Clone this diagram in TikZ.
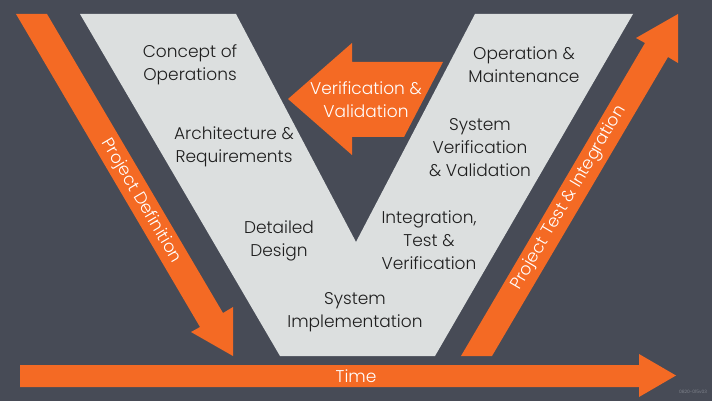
\documentclass[tikz,border=0pt]{standalone}
\usepackage{fontspec}
\setmainfont{Poppins}[UprightFont=* Light]
\usepackage{xcolor}
\usetikzlibrary{positioning}

\definecolor{slate}{HTML}{474B56}
\definecolor{vorange}{HTML}{F46A24}
\definecolor{vgray}{HTML}{DCDFDF}
\definecolor{vtext}{HTML}{1E1E1E}
\definecolor{idgray}{HTML}{8C9099}

\tikzset{
    phase/.style={align=center,
        text=vtext,
        inner sep=0pt,
        font=\fontsize{17}{23}\selectfont},
    flowlabel/.style={align=center,
        text=white,
        inner sep=0pt,
        font=\fontsize{17}{23}\selectfont}
}

\begin{document}
\begin{tikzpicture}[x=1pt,y=-1pt]

    \useasboundingbox (0,0) rectangle (712,401);
    \fill[slate] (0,0) rectangle (712,401);

    % the V
    \fill[vgray] (80,14) -- (236,14) -- (356,242) -- (475,14)
        -- (633,14) -- (435,356) -- (280,356) -- cycle;

    % big arrows
    \fill[vorange] (16,14) -- (47,14) -- (223,313) -- (233,307)
        -- (233,356) -- (191,332) -- (200,327) -- cycle;
    \fill[vorange] (461,356) -- (492,356) -- (668,57) -- (678,63)
        -- (678,14) -- (636,38) -- (645,43) -- cycle;
    \fill[vorange] (20,365) -- (639,365) -- (639,354) -- (676,375.5)
        -- (639,397) -- (639,387) -- (20,387) -- cycle;
    \fill[vorange] (288,99) -- (352,43) -- (352,62) -- (443,62)
        -- (404,137) -- (352,137) -- (352,155) -- cycle;

    % phases
    \node[phase] (conops) at (190,65) {Concept of\\Operations};
    \node[phase] (archreq) at (234,147) {Architecture \&\\Requirements};
    \node[phase] (design) at (279,241) {Detailed\\Design};
    \node[phase] (implement) at (355,312) {System\\Implementation};
    \node[phase] (integration) at (429,240) {Integration,\\Test \&\\Verification};
    \node[phase] (sysverif) at (480,148) {System\\Verification\\\& Validation};
    \node[phase] (opsmaint) at (524,65) {Operation \&\\Maintenance};

    % arrow labels
    \node[flowlabel] (verval) at (366,100) {Verification \&\\Validation};
    \node[flowlabel, rotate=-59.5] (projdef) at (141,201) {Project Definition};
    \node[flowlabel, rotate=59.5] (projtest) at (569,198) {Project Test \& Integration};
    \node[flowlabel] (time) at (356,376) {Time};

    \node[text=idgray, inner sep=0pt,
        font=\fontsize{4.5}{5}\selectfont]
        (docid) at (693,392) {0820-015v03};

\end{tikzpicture}
\end{document}
